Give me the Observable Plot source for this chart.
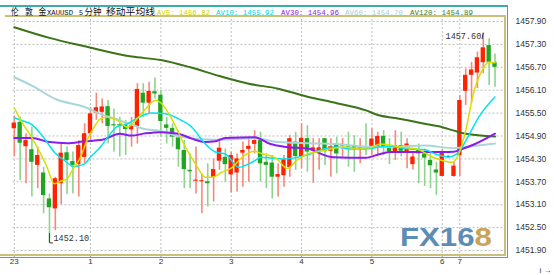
<!DOCTYPE html>
<html><head><meta charset="utf-8">
<script src="https://cdn.jsdelivr.net/npm/d3@7"></script>
<script src="https://cdn.jsdelivr.net/npm/@observablehq/plot@0.6"></script>
<style>
body{margin:0;background:#fff;}
#wrap{position:relative;width:554px;height:275px;overflow:hidden;background:#fff;}
.ln{position:absolute;}
#wm{position:absolute;left:400px;top:222px;font:bold 26px "Liberation Sans",Arial,sans-serif;transform:scaleX(1.2);transform-origin:0 0;letter-spacing:0px;white-space:nowrap;}
#wm .b{color:#5c8db6;}
#wm .g{color:#c9a458;}
</style></head><body><div id="wrap"></div>
<script>
// ---- data ----
const opens  = [1455.09,1455.26,1454.62,1454.54,1454.13,1453.93,1453.25,1452.99,1453.65,1454.46,1454.23,1454.15,1454.34,1454.96,1455.50,1455.52,1455.67,1455.19,1455.19,1455.19,1455.06,1455.15,1456.02,1455.76,1456.06,1455.97,1455.19,1455.10,1454.85,1454.52,1454.00,1453.72,1453.70,1453.70,1453.82,1454.24,1454.34,1453.88,1453.93,1454.45,1454.55,1454.68,1454.78,1454.21,1454.19,1453.82,1453.86,1454.07,1454.74,1454.36,1454.83,1454.50,1454.48,1454.83,1454.50,1454.68,1454.64,1454.64,1454.64,1454.57,1454.62,1454.62,1454.62,1454.89,1454.58,1454.49,1454.65,1454.48,1454.15,1454.52,1454.43,1454.26,1454.01,1453.84,1454.35,1453.84,1454.39,1456.07,1456.49,1456.55,1456.82,1457.27,1456.82];
const highs  = [1455.41,1455.39,1454.96,1455.13,1454.61,1454.08,1453.38,1453.82,1454.68,1454.62,1454.48,1454.78,1455.22,1455.64,1456.02,1455.87,1455.83,1455.61,1455.39,1455.31,1455.39,1456.27,1456.27,1456.31,1456.42,1456.09,1455.39,1455.22,1455.04,1454.78,1454.43,1454.61,1453.91,1454.17,1454.30,1454.83,1454.56,1454.48,1454.43,1454.74,1454.87,1455.04,1455.00,1454.43,1454.39,1454.17,1454.39,1454.91,1455.00,1455.22,1455.17,1454.83,1454.83,1454.83,1454.83,1454.87,1454.83,1455.00,1454.91,1454.83,1455.22,1455.09,1455.00,1455.04,1454.83,1455.04,1455.00,1454.83,1454.48,1454.69,1454.56,1454.48,1454.21,1454.54,1454.38,1454.21,1455.96,1456.66,1456.83,1457.10,1457.60,1457.45,1457.05];
const lows   = [1454.36,1453.73,1453.65,1453.30,1453.52,1452.86,1452.10,1452.42,1453.10,1453.37,1453.38,1453.30,1454.17,1454.78,1455.31,1455.22,1454.69,1454.48,1454.35,1454.39,1454.61,1454.69,1455.39,1455.48,1455.87,1454.87,1454.69,1454.61,1454.08,1453.52,1453.52,1453.38,1452.86,1453.04,1453.17,1454.00,1453.69,1453.41,1453.43,1453.56,1453.69,1454.43,1453.69,1453.52,1453.25,1453.30,1453.56,1453.82,1454.00,1454.04,1453.95,1453.66,1454.00,1454.13,1453.82,1453.91,1454.35,1454.08,1453.95,1454.17,1454.39,1454.39,1454.35,1454.39,1454.15,1454.26,1454.35,1454.04,1454.01,1453.65,1453.58,1453.52,1453.34,1453.84,1454.32,1453.82,1453.84,1455.70,1455.76,1456.14,1456.53,1456.22,1456.18];
const closes = [1455.24,1454.71,1454.78,1454.21,1454.39,1453.34,1453.02,1453.78,1454.45,1454.26,1454.13,1454.65,1454.96,1455.48,1455.64,1455.66,1455.15,1455.17,1455.17,1455.07,1455.17,1456.12,1455.76,1456.07,1456.00,1455.28,1455.10,1454.87,1454.54,1454.02,1453.96,1453.74,1453.73,1453.65,1454.02,1454.58,1454.15,1454.39,1454.30,1454.52,1454.63,1454.78,1454.17,1454.13,1453.82,1453.89,1454.28,1454.83,1454.36,1454.84,1454.48,1454.59,1454.59,1454.49,1454.62,1454.43,1454.68,1454.61,1454.55,1454.59,1454.57,1454.82,1454.89,1454.62,1454.48,1454.65,1454.50,1454.69,1454.35,1454.43,1454.32,1454.12,1453.93,1454.49,1454.35,1454.11,1455.83,1456.49,1456.63,1456.95,1457.21,1456.83,1456.70];

const xTickIdx    = [0,13,25,37,49,61,73,76];
const xTickLabels = ["23","1","2","3","4","5","6","7"];
const yTicks = [1451.9,1452.5,1453.1,1453.7,1454.3,1454.9,1455.5,1456.1,1456.7,1457.3,1457.9];

// moving averages: [candle index, value]
const av5 = [[0,1455.64],[1.1,1455.31],[2.8,1454.91],[4.5,1454.43],[5.6,1454.08],[6.8,1453.65],[8,1453.72],[9,1453.78],[9.9,1454.00],[11.3,1454.35],[12.4,1454.78],[13.6,1455.13],[14.7,1455.35],[15.8,1455.39],[17.6,1455.31],[19.3,1455.13],[20.7,1455.31],[22.4,1455.61],[24.1,1455.83],[25.2,1455.74],[27,1455.31],[29.2,1454.61],[30.9,1454.17],[32.6,1453.82],[33.8,1453.82],[35.4,1453.95],[37.2,1454.08],[38.9,1454.35],[41,1454.50],[42,1454.45],[44.8,1454.30],[46.5,1454.05],[48.2,1454.26],[50,1454.43],[51.6,1454.48],[54,1454.56],[56.2,1454.61],[58.5,1454.58],[60.7,1454.59],[62.4,1454.69],[64.5,1454.65],[66,1454.61],[69,1454.54],[71.3,1454.35],[73,1454.26],[74.7,1454.21],[75.8,1454.43],[77,1455.04],[78.3,1456.0],[79.8,1456.62],[80.9,1456.83],[82,1456.82]];
const av10 = [[0,1455.38],[1,1455.32],[3,1455.20],[4.5,1454.96],[7,1454.45],[9,1454.21],[10,1454.10],[12,1454.17],[13,1454.35],[14.7,1454.61],[16.4,1454.96],[17.6,1455.15],[19.3,1455.22],[21.2,1455.39],[23.5,1455.50],[25.8,1455.48],[28,1455.35],[30.3,1455.13],[32.6,1454.69],[34.3,1454.48],[36,1454.43],[38.3,1454.08],[40,1454.17],[41.1,1454.26],[42,1454.34],[46,1454.30],[48.2,1454.34],[50.5,1454.43],[52.8,1454.56],[55,1454.61],[57.3,1454.56],[59.6,1454.56],[62.4,1454.61],[63.9,1454.63],[67.3,1454.56],[70.1,1454.54],[71.8,1454.43],[74.1,1454.35],[75.8,1454.48],[77.5,1454.91],[79.2,1455.39],[82,1455.92]];
const av30 = [[0,1454.85],[3,1454.85],[6,1454.74],[9,1454.71],[12,1454.76],[15,1454.80],[18,1454.96],[20,1454.91],[22.4,1454.97],[25,1455.00],[28,1454.96],[30.3,1454.83],[32.6,1454.74],[34.3,1454.76],[36,1454.85],[41,1454.87],[43.7,1454.69],[46,1454.62],[50.5,1454.56],[51.6,1454.48],[54.5,1454.34],[57.3,1454.33],[60,1454.33],[62.4,1454.43],[64.4,1454.48],[73,1454.48],[75,1454.49],[76.4,1454.56],[78.6,1454.69],[82,1454.96]];
const av60 = [[0,1456.44],[3,1456.22],[7,1455.87],[12,1455.66],[15,1455.46],[18,1455.31],[20,1455.20],[22,1455.09],[25,1455.03],[28,1454.89],[31,1454.83],[35,1454.80],[41,1454.84],[45,1454.74],[50,1454.71],[55,1454.69],[60,1454.62],[65,1454.62],[70,1454.65],[75,1454.58],[78,1454.63],[82,1454.70]];
const av120 = [[0,1457.75],[6,1457.47],[12,1457.25],[20,1456.98],[25,1456.89],[30,1456.70],[35,1456.47],[40,1456.27],[45,1456.14],[50,1455.93],[55,1455.76],[60,1455.57],[62,1455.45],[65,1455.37],[70,1455.22],[73,1455.13],[75,1455.04],[77,1454.96],[82,1454.89]];

// ---- build ----
const candles = opens.map((o,i)=>({i,o,h:highs[i],l:lows[i],c:closes[i]}));
const bodyColor = d => Math.abs(d.c-d.o) < 0.005 ? "#333" : (d.c > d.o ? "#ff2200" : "#20a520");
const wickColor = d => d.c >= d.o ? "#f4897a" : "#8ed38e";
const pad = d => Math.max(0, (0.03 - Math.abs(d.c-d.o))/2);
const hiIdx = d3.maxIndex(highs), loIdx = d3.minIndex(lows);
const hiPt = [candles[hiIdx]], loPt = [candles[loIdx]];
const P = a => ({x:d=>d[0], y:d=>d[1]});

const chart = Plot.plot({
  width:554, height:275,
  marginLeft:12.5, marginRight:49, marginTop:15, marginBottom:20,
  x:{domain:[-0.22,83.79], axis:null},
  y:{domain:[1451.769,1458.057], axis:null},
  color:{type:"identity"},
  style:{fontFamily:"'Liberation Sans',Arial,sans-serif", fontSize:"8.5px", color:"#333", background:"transparent"},
  marks:[
    Plot.ruleY(yTicks,{y:d=>d, stroke:"#bdbdbd", strokeDasharray:"2,2"}),
    Plot.ruleX(xTickIdx,{x:d=>d, stroke:"#bdbdbd", strokeDasharray:"2,2"}),
    Plot.ruleX(candles,{x:"i", y1:"l", y2:"h", stroke:wickColor, strokeWidth:1.6}),
    Plot.rect(candles,{x1:d=>d.i-0.37, x2:d=>d.i+0.37, y1:d=>Math.min(d.o,d.c)-pad(d), y2:d=>Math.max(d.o,d.c)+pad(d), fill:bodyColor}),
    Plot.line(av120,{...P(), stroke:"#3b7318", strokeWidth:2, curve:"monotone-x"}),
    Plot.line(av60,{...P(), stroke:"#a9d6da", strokeWidth:2, curve:"monotone-x"}),
    Plot.line(av30,{...P(), stroke:"#8a1cf0", strokeWidth:2, curve:"monotone-x"}),
    Plot.line(av10,{...P(), stroke:"#00e4f0", strokeWidth:1.5, curve:"monotone-x"}),
    Plot.line(av5,{...P(), stroke:"#d6e000", strokeWidth:1.5, curve:"monotone-x"}),
    // high / low markers
    Plot.link(hiPt,{x1:d=>d.i-0.22, y1:d=>d.h-0.16, x2:"i", y2:"h", stroke:"#333", strokeWidth:1}),
    Plot.text(hiPt,{x:"i", y:"h", text:d=>d.h.toFixed(2), textAnchor:"end", dx:-2, dy:3, fill:"#333", fontSize:8.5, fontFamily:"'Liberation Mono',monospace"}),
    Plot.link(loPt,{x1:"i", y1:d=>d.l+0.26, x2:"i", y2:"l", stroke:"#444", strokeWidth:1}),
    Plot.link(loPt,{x1:"i", y1:"l", x2:d=>d.i+0.6, y2:"l", stroke:"#444", strokeWidth:1}),
    Plot.text(loPt,{x:"i", y:"l", text:d=>d.l.toFixed(2), textAnchor:"start", dx:4, dy:-5, fill:"#333", fontSize:8.5, fontFamily:"'Liberation Mono',monospace"}),
    Plot.axisY(yTicks,{anchor:"right", tickSize:0, tickPadding:10, tickFormat:d=>d.toFixed(2), fill:"#333"}),
    Plot.axisX(xTickIdx,{anchor:"bottom", tickSize:2, tickPadding:1, stroke:"#999", fill:"#333", tickFormat:(d,i)=>xTickLabels[xTickIdx.indexOf(d)], fontSize:8})
  ]
});
const wrap = document.getElementById("wrap");
chart.style.position="absolute"; chart.style.left="0"; chart.style.top="0";
wrap.appendChild(chart);

// frame decorations
function line(l,t,w,h,c){const e=document.createElement("div");e.className="ln";Object.assign(e.style,{left:l+"px",top:t+"px",width:w+"px",height:h+"px",background:c});wrap.appendChild(e);}
line(0,5,508,1.5,"#3eaab4");
line(5,14.5,500,2,"#c9c07a");
line(503.5,14.5,2,241.5,"#c9c07a");
line(506.5,5,1.5,253,"#3eaab4");
line(0,254,506,2,"#c9c07a");
line(0,256.5,508,1.5,"#3eaab4");

// header legend
const ns="http://www.w3.org/2000/svg";
const hdr=document.createElementNS(ns,"svg");
hdr.setAttribute("width","554");hdr.setAttribute("height","20");
Object.assign(hdr.style,{position:"absolute",left:"0",top:"0"});
const cjk="'Noto Sans CJK SC',sans-serif", mono="'Liberation Mono',monospace";
const hdrItems = [
  ["伦",11,7.5,cjk,9.5,"#111"],["敦",25,7.8,cjk,9.5,"#111"],["金",38.5,8,cjk,9.5,"#111"],
  ["XAUUSD",47,26,mono,7.6,"#111"],["5",79,4,mono,7.6,"#111"],["分钟",84.5,17,cjk,9.5,"#111"],
  ["移动平均线",106,49,cjk,9.5,"#111"],
  ["AV5: 1456.82",157,53,mono,7.6,"#cfd400"],
  ["AV10: 1455.92",216,58,mono,7.6,"#00d6ea"],
  ["AV30: 1454.96",281,58,mono,7.6,"#8a20e8"],
  ["AV60: 1454.70",345,58,mono,7.6,"#a6cfd2"],
  ["AV120: 1454.89",410,63,mono,7.6,"#3f7a22"]
];
for(const [t,x,w,f,fs,c] of hdrItems){
  const e=document.createElementNS(ns,"text");
  e.setAttribute("x",x);e.setAttribute("y",15);e.setAttribute("textLength",w);
  e.setAttribute("lengthAdjust","spacingAndGlyphs");
  e.setAttribute("font-family",f);e.setAttribute("font-size",fs);e.setAttribute("fill",c);
  e.textContent=t;hdr.appendChild(e);
}
wrap.appendChild(hdr);

// watermark
const wm=document.createElement("div");wm.id="wm";
wm.innerHTML='<span class="b">FX16</span><span class="g">8</span>';
wrap.appendChild(wm);
</script></body></html>
